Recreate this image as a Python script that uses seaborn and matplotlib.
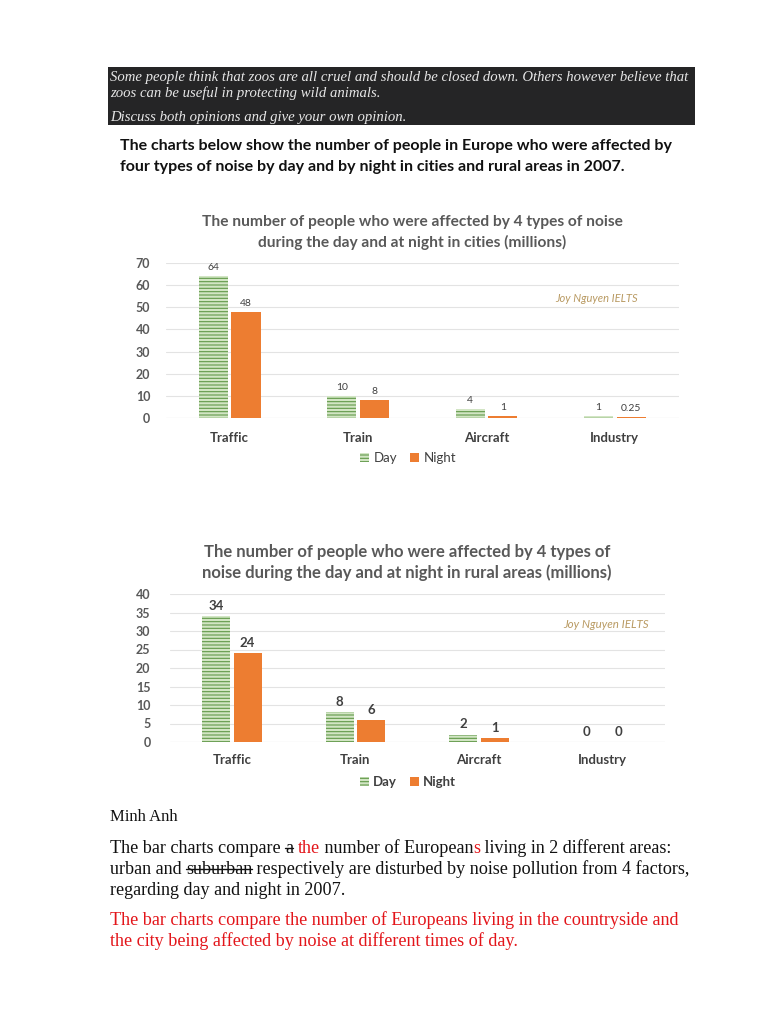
import matplotlib
matplotlib.use("Agg")
import matplotlib.pyplot as plt
import seaborn as sns
import pandas as pd
from matplotlib.patches import Rectangle, Patch
from matplotlib.lines import Line2D

# ---------------- data ----------------
categories = ["Traffic", "Train", "Aircraft", "Industry"]
series = ["Day", "Night"]
city_day = [64, 10, 4, 1]
city_night = [48, 8, 1, 0.25]
rural_day = [34, 8, 2, 0]
rural_night = [24, 6, 1, 0]
city_ticks = [0, 10, 20, 30, 40, 50, 60, 70]
rural_ticks = [0, 5, 10, 15, 20, 25, 30, 35, 40]

city_title = ["The number of people who were affected by 4 types of noise",
              "during the day and at night in cities (millions)"]
rural_title = ["The number of people who were affected by 4 types of",
               "noise during the day and at night in rural areas (millions)"]
banner_lines = ["Some people think that zoos are all cruel and should be closed down. Others however believe that",
                "zoos can be useful in protecting wild animals.",
                "Discuss both opinions and give your own opinion."]
heading_lines = ["The charts below show the number of people in Europe who were affected by",
                 "four types of noise by day and by night in cities and rural areas in 2007."]
watermark = "Joy Nguyen IELTS"

sns.set_style("white")
plt.rcParams["font.family"] = ["Lato", "DejaVu Sans"]
plt.rcParams["hatch.linewidth"] = 0.8

W, H = 768, 1024
fig = plt.figure(figsize=(W / 100, H / 100), dpi=100)
fig.patch.set_facecolor("white")
renderer = fig.canvas.get_renderer()

DAY_FACE = "#d2e5c4"
DAY_HATCH = "#62994a"
NIGHT = "#ed7d31"
GRAY = "#595959"


def fx(px):
    return px / W


def fy(py):
    return 1 - py / H


def width_of(s, **kw):
    t = fig.text(0, 0, s, **kw)
    w = t.get_window_extent(renderer).width
    t.remove()
    return w


def fit_text(x, y, s, width=None, size=10, ha="left", va="center", **kw):
    t = fig.text(fx(x), fy(y), s, fontsize=size, ha=ha, va=va, **kw)
    if width:
        w = t.get_window_extent(renderer).width
        t.set_fontsize(size * width / w)
    return t


def draw_runs(x, y, runs, size, family):
    cur = ""
    for text, color, strike in runs:
        kw = dict(fontsize=size, family=family)
        xoff = (width_of(cur + "|", **kw) - width_of("|", **kw)) if cur else 0
        fig.text(fx(x + xoff), fy(y), text, color=color, va="baseline", **kw)
        if strike:
            w = width_of(text, **kw)
            sy = y - size * 100 / 72 * 0.27
            fig.add_artist(Line2D([fx(x + xoff), fx(x + xoff + w)], [fy(sy), fy(sy)],
                                  color=color, lw=1.0))
        cur += text


# ---------------- banner ----------------
fig.add_artist(Rectangle((fx(108), fy(125)), fx(695) - fx(108), fy(67) - fy(125),
                         transform=fig.transFigure, facecolor="#252526", edgecolor="none"))
t0 = fit_text(110, 77, banner_lines[0], width=580, size=9.5, family="Liberation Serif",
              style="italic", color="#e6e6e6")
bs = t0.get_fontsize()
fit_text(110, 93, banner_lines[1], size=bs, family="Liberation Serif", style="italic", color="#e6e6e6")
fit_text(110, 117, banner_lines[2], size=bs, family="Liberation Serif", style="italic", color="#e6e6e6")

# ---------------- heading ----------------
h0 = fit_text(120, 146, heading_lines[0], width=553, size=11, weight="bold", color="#111111")
fit_text(120, 167, heading_lines[1], size=h0.get_fontsize(), weight="bold", color="#111111")


# ---------------- charts ----------------
def make_chart(box, day, night, ticks, title, title_y, title_w, wm_pos, label_size,
               label_bold, legend_y, legend_bold, xlabel_pad, ytick_pad):
    l, t, r, b = box
    ax = fig.add_axes([fx(l), fy(b), fx(r) - fx(l), fy(t) - fy(b)])
    df = pd.DataFrame({"Noise": categories * 2,
                       "Series": ["Day"] * len(day) + ["Night"] * len(night),
                       "Value": list(day) + list(night)})
    sns.barplot(data=df, x="Noise", y="Value", hue="Series", order=categories,
                hue_order=series, palette={"Day": DAY_FACE, "Night": NIGHT},
                width=0.51, gap=0.11, ax=ax, legend=False, saturation=1, zorder=3)
    for bar in ax.containers[0]:
        bar.set_hatch("-----")
        bar.set_edgecolor(DAY_HATCH)
        bar.set_linewidth(0)
    for bar in ax.containers[1]:
        bar.set_linewidth(0)
    for c in ax.containers:
        ax.bar_label(c, fmt="{:g}", padding=3, fontsize=label_size,
                     fontweight="bold" if label_bold else "normal", color="#404040")
    ax.set_ylim(ticks[0], ticks[-1])
    ax.set_xlim(-0.5, len(categories) - 0.5)
    ax.set_yticks(ticks)
    ax.set_yticklabels([str(v) for v in ticks], fontsize=9, fontweight="bold", color=GRAY)
    ax.tick_params(axis="y", length=0, pad=ytick_pad)
    ax.tick_params(axis="x", length=0, pad=xlabel_pad, labelsize=9.5, labelcolor="#404040")
    for lab in ax.get_xticklabels():
        lab.set_fontweight("bold")
    ax.set_xlabel("")
    ax.set_ylabel("")
    ax.grid(axis="y", color="#e3e3e3", lw=0.8, zorder=0)
    ax.set_axisbelow(True)
    for s in ax.spines.values():
        s.set_visible(False)
    ax.axhline(0, color="#d9d9d9", lw=0.8, zorder=2)
    ax.patch.set_alpha(0)
    # title
    cx = (l + r) / 2 - 10
    tt = fit_text(cx, title_y[0], title[0], width=title_w, size=11, ha="center",
                  weight="bold", color=GRAY)
    fit_text(cx, title_y[1], title[1], size=tt.get_fontsize(), ha="center",
             weight="bold", color=GRAY)
    # watermark
    fit_text(wm_pos[0], wm_pos[1], watermark, width=wm_pos[2], size=7,
             style="italic", color="#b99a62")
    # legend
    handles = [Patch(facecolor=DAY_FACE, edgecolor=DAY_HATCH, hatch="-----", lw=0),
               Patch(facecolor=NIGHT, edgecolor="none")]
    ax.legend(handles, series, loc="center", bbox_to_anchor=(fx(408), fy(legend_y)),
              bbox_transform=fig.transFigure, ncol=2, frameon=False,
              handlelength=0.7, handleheight=0.7, handletextpad=0.3, columnspacing=1.0,
              prop={"size": 9.5, "weight": "bold" if legend_bold else "normal"},
              labelcolor="#404040")
    return ax


make_chart((165.5, 263, 679, 418), city_day, city_night, city_ticks, city_title,
           (222, 242), 420, (555, 298, 82), 7.5, False, 458, False, 10, 11)
make_chart((170, 594, 664.5, 742), rural_day, rural_night, rural_ticks, rural_title,
           (552, 573), 406, (563, 625, 85), 9.5, True, 782, True, 9, 14)

# ---------------- bottom text ----------------
K = "#111111"
RED = "#e3151a"
serif = "Liberation Serif"
fit_text(110, 817, "Minh Anh", size=12, family=serif, color=K)
line1 = [("The bar charts compare ", K, False), ("a", K, True), (" ", K, False),
         ("the", RED, False), (" number of European", K, False), ("s", RED, False),
         (" living in 2 different areas:", K, False)]
full1 = "".join(r[0] for r in line1)
ps = 12 * 561 / width_of(full1, fontsize=12, family=serif)
draw_runs(110, 853, line1, ps, serif)
draw_runs(110, 874, [("urban and ", K, False), ("suburban", K, True),
                     (" respectively are disturbed by noise pollution from 4 factors,", K, False)],
          ps, serif)
draw_runs(110, 895, [("regarding day and night in 2007.", K, False)], ps, serif)
draw_runs(110, 925, [("The bar charts compare the number of Europeans living in the countryside and", RED, False)],
          ps, serif)
draw_runs(110, 946, [("the city being affected by noise at different times of day.", RED, False)], ps, serif)

fig.savefig("out.png", dpi=100, facecolor="white")
